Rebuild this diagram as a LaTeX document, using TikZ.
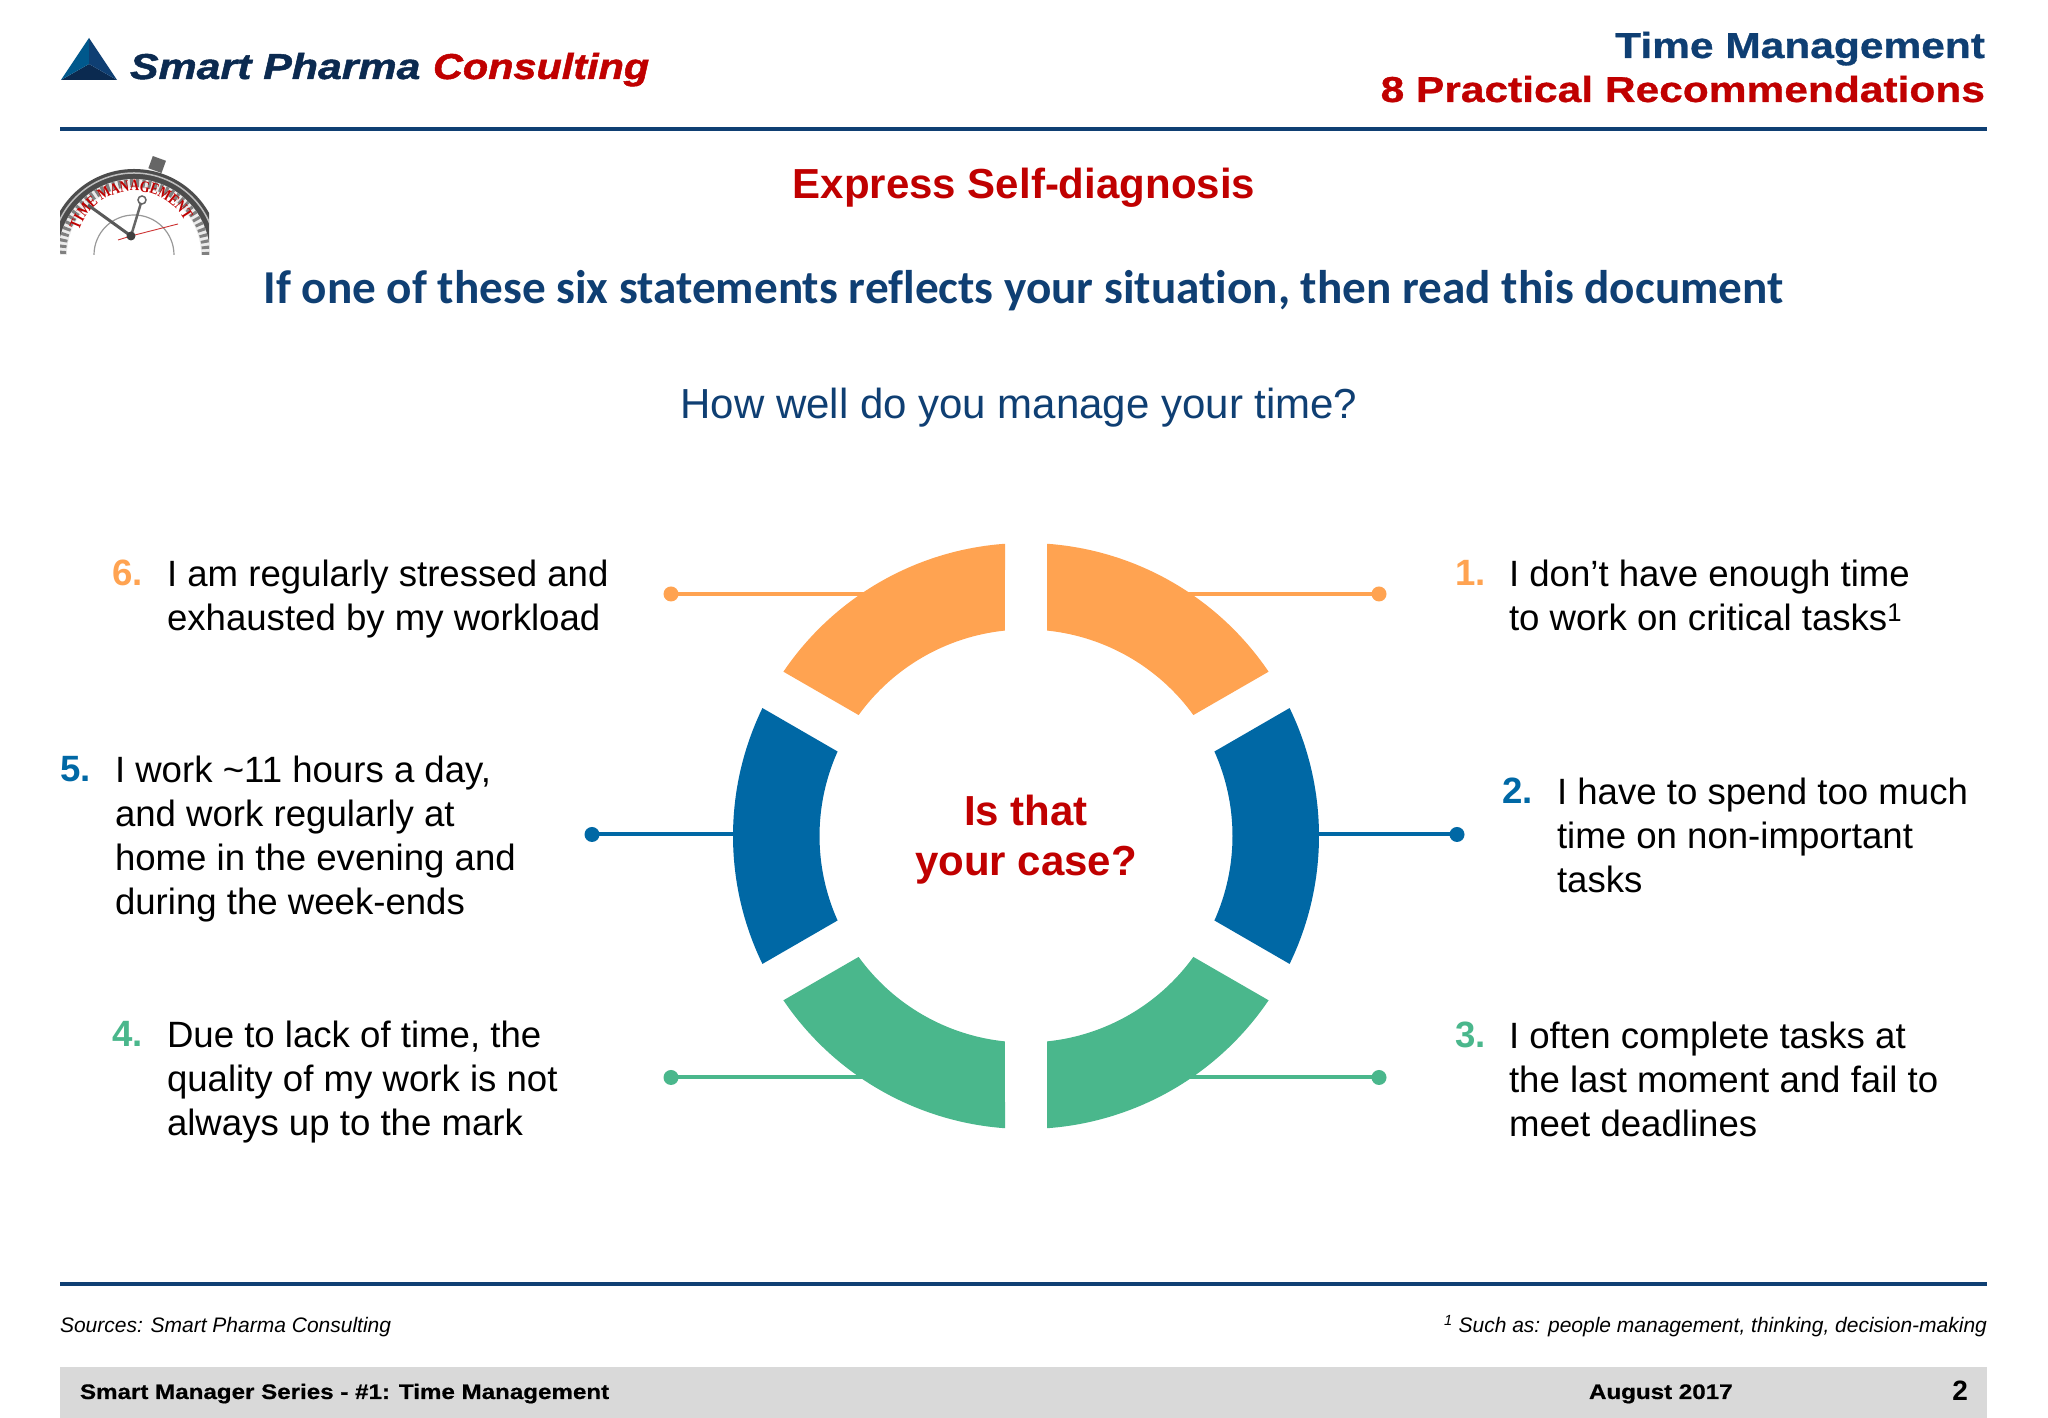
\documentclass[tikz,border=0pt]{standalone}
\usepackage{fontspec}
\setmainfont{Liberation Sans}
\newfontfamily\calibfont[Ligatures=CommonOff]{Carlito}
\newfontfamily\widefont[FakeStretch=1.18,FakeBold=0.8]{Liberation Sans}
\newfontfamily\logofont[FakeStretch=1.19,FakeBold=1.4]{Liberation Sans}
\newfontfamily\logofontb[FakeStretch=1.15,FakeBold=1.4]{Liberation Sans}
\newfontfamily\footfont[FakeStretch=1.15,FakeBold=0.6]{Liberation Sans}
\newfontfamily\clockfont[FakeStretch=0.8]{Liberation Serif}
\usetikzlibrary{decorations.text}
\definecolor{cnavy}{HTML}{0F3F73}
\definecolor{clogo}{HTML}{0B2A50}
\definecolor{cred}{HTML}{C00000}
\definecolor{corange}{HTML}{FFA351}
\definecolor{cblue}{HTML}{0068A5}
\definecolor{cgreen}{HTML}{4AB78C}
\definecolor{cbar}{HTML}{D9D9D9}
\newcommand\ringseg[5]{\fill[#1] (#2:293) arc[start angle=#2,end angle=#3,radius=293] -- (#4:206.5) arc[start angle=#4,end angle=#5,radius=206.5] -- cycle;}
\tikzset{
  txt/.style={inner sep=0pt,outer sep=0pt},
  body/.style={txt,anchor=north west,align=left,text=black,font=\fontsize{36.6}{44}\selectfont},
  num/.style={txt,anchor=base west,font=\fontsize{36.6}{44}\selectfont\bfseries},
  dotnode/.style={circle,fill=#1,inner sep=0pt,minimum size=15pt},
  conn/.style={draw=#1,line width=4pt},
  rulebar/.style={fill=cnavy},
}
\begin{document}
\begin{tikzpicture}[x=1pt,y=1pt]
\useasboundingbox (0,0) rectangle (2048,1418);
\fill[white] (0,0) rectangle (2048,1418);
% header
\fill[rulebar] (60,1287) rectangle (1987,1291);
\fill[rulebar] (60,132) rectangle (1987,136);
\fill[cbar] (60,0) rectangle (1987,51);
% logo
\fill[clogo] (61,1338) -- (117,1338) -- (89,1354) -- cycle;
\fill[cblue!85!black] (61,1338) -- (89,1380) -- (89,1354) -- cycle;
\fill[cnavy] (117,1338) -- (89,1380) -- (89,1354) -- cycle;
\node[txt,anchor=base west,text=clogo,font=\logofont\fontsize{36}{44}\selectfont\bfseries\itshape] (logoa) at (130,1339) {Smart Pharma};
\node[txt,anchor=base west,text=cred,font=\logofontb\fontsize{36}{44}\selectfont\bfseries\itshape] (logob) at (433,1339) {Consulting};
\node[txt,anchor=base east,text=cnavy,font=\widefont\fontsize{36}{44}\selectfont\bfseries] (heada) at (1985,1360) {Time Management};
\node[txt,anchor=base east,text=cred,font=\widefont\fontsize{36}{44}\selectfont\bfseries] (headb) at (1985,1316) {8 Practical Recommendations};
% clock
\begin{scope}
\clip (60,1163) rectangle (209,1262);
\fill[black!60,rotate around={-20:(157,1253)}] (150,1247) rectangle (164,1260);
\fill[black!70] (134,1163) circle[radius=86];
\draw[black!25,line width=1.5pt] (134,1163) circle[radius=82];
\fill[black!8] (134,1163) circle[radius=76];
\draw[black!50,line width=8pt,dash pattern=on 3pt off 3pt] (134,1163) circle[radius=72];
\fill[white] (134,1163) circle[radius=67];
\draw[black!40,line width=1.2pt] (134,1163) circle[radius=40];
\path[decorate,decoration={text along path,text align=center,text={|\clockfont\fontsize{16}{16}\selectfont\bfseries\color{cred}|TIME MANAGEMENT}}]
  (76,1172) arc[start angle=177,end angle=13,radius=58];
\draw[black!65,line width=3pt] (131,1182) -- (88,1213);
\draw[black!60,line width=2.5pt] (131,1182) -- (141,1215);
\draw[black!60,line width=1.5pt] (142,1218) circle[radius=4];
\draw[cred!80,line width=.9pt] (118,1178) -- (131,1182) -- (178,1194);
\fill[black!75] (131,1182) circle[radius=4.5];
\end{scope}
% titles
\node[txt,anchor=base,text=cred,font=\fontsize{42}{50}\selectfont\bfseries] (tone) at (1024,1219) {Express Self-diagnosis};
\node[txt,anchor=base,text=cnavy,font=\calibfont\fontsize{47.2}{50}\selectfont\bfseries] (ttwo) at (1023.5,1114) {If one of these six statements reflects your situation, then read this document};
\node[txt,anchor=base,text=cnavy,font=\fontsize{42}{50}\selectfont] (tthree) at (1019,999) {How well do you manage your time?};
% dots and ring anchors
\node[dotnode=corange] (d1) at (1379,824) {};
\node[dotnode=cblue] (d2) at (1457,583.5) {};
\node[dotnode=cgreen] (d3) at (1379,340.5) {};
\node[dotnode=cgreen] (d4) at (671,340.5) {};
\node[dotnode=cblue] (d5) at (592,583.5) {};
\node[dotnode=corange] (d6) at (671,824) {};
\coordinate (r1) at (1126,824);
\coordinate (r2) at (1290,583.5);
\coordinate (r3) at (1126,340.5);
\coordinate (r4) at (926,340.5);
\coordinate (r5) at (762,583.5);
\coordinate (r6) at (926,824);
\draw[conn=corange] (d1.center) -- (r1);
\draw[conn=cblue] (d2.center) -- (r2);
\draw[conn=cgreen] (d3.center) -- (r3);
\draw[conn=cgreen] (d4.center) -- (r4);
\draw[conn=cblue] (d5.center) -- (r5);
\draw[conn=corange] (d6.center) -- (r6);
% ring
\begin{scope}[shift={(1026,582)}]
\ringseg{corange}{85.89}{34.11}{35.85}{84.15}
\ringseg{cblue}{25.89}{-25.89}{-24.15}{24.15}
\ringseg{cgreen}{-34.11}{-85.89}{-84.15}{-35.85}
\ringseg{cgreen}{-94.11}{-145.89}{-144.15}{-95.85}
\ringseg{cblue}{154.11}{205.89}{204.15}{155.85}
\ringseg{corange}{94.11}{145.89}{144.15}{95.85}
\end{scope}
\node[txt,anchor=base,text=cred,font=\fontsize{42}{50}\selectfont\bfseries] (ca) at (1026,592) {Is that};
\node[txt,anchor=base,text=cred,font=\fontsize{42}{50}\selectfont\bfseries] (cb) at (1026,542) {your case?};
% items
\node[num,text=corange] (n1) at (1455,832) {1.};
\node[body] (i1) at (1509,858) {I don’t have enough time\\to work on critical tasks\textsuperscript{1}};
\node[num,text=cblue] (n2) at (1502,614) {2.};
\node[body] (i2) at (1557,640) {I have to spend too much\\time on non-important\\tasks};
\node[num,text=cgreen] (n3) at (1455,370) {3.};
\node[body] (i3) at (1509,396) {I often complete tasks at\\the last moment and fail to\\meet deadlines};
\node[num,text=cgreen] (n4) at (112,371) {4.};
\node[body] (i4) at (167,397) {Due to lack of time, the\\quality of my work is not\\always up to the mark};
\node[num,text=cblue] (n5) at (60,636) {5.};
\node[body] (i5) at (115,662) {I work \textasciitilde 11 hours a day,\\and work regularly at\\home in the evening and\\during the week-ends};
\node[num,text=corange] (n6) at (112,832) {6.};
\node[body] (i6) at (167,858) {I am regularly stressed and\\exhausted by my workload};
% footer
\node[txt,anchor=base west,text=black,font=\fontsize{21}{25}\selectfont\itshape] (src) at (60,85) {Sources: Smart Pharma Consulting};
\node[txt,anchor=base east,text=black,font=\fontsize{21}{25}\selectfont\itshape] (fn) at (1987,85) {\textsuperscript{1} Such as: people management, thinking, decision-making};
\node[txt,anchor=base west,text=black,font=\footfont\fontsize{21}{25}\selectfont\bfseries] (fa) at (80,19) {Smart Manager Series - \#1: Time Management};
\node[txt,anchor=base west,text=black,font=\footfont\fontsize{21}{25}\selectfont\bfseries] (fb) at (1589,19) {August 2017};
\node[txt,anchor=base east,text=black,font=\fontsize{28}{30}\selectfont\bfseries] (fc) at (1968,17) {2};
\end{tikzpicture}
\end{document}
